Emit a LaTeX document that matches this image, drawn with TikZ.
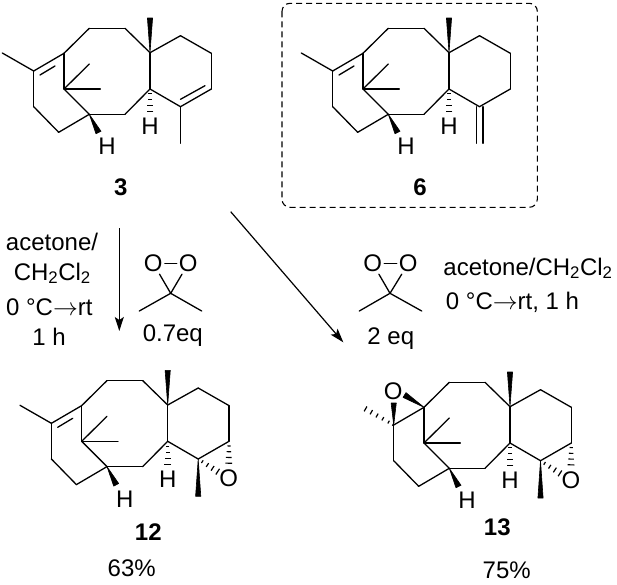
\documentclass[tikz,border=0pt]{standalone}
\usepackage{fontspec}
\setmainfont{Liberation Sans}
\usetikzlibrary{arrows.meta, calc}

\tikzset{
  bond/.style={line width=1.3pt, line cap=round, line join=round},
  atom/.style={font=\fontsize{24}{26}\selectfont, inner sep=2pt},
  lbl/.style={font=\fontsize{24}{26}\selectfont, anchor=base, inner sep=0pt},
  numlbl/.style={font=\fontsize{24}{26}\selectfont\bfseries, anchor=base, inner sep=0pt},
  rxn/.style={line width=1.2pt, -{Stealth[length=14pt, width=9pt, inset=3pt]}}
}

% wedge, thin at #1 and #3 wide at #2
\newcommand{\wedgebond}[3]{
  \fill (#1) -- ($(#2)!#3!90:(#1)$) -- ($(#2)!#3!-90:(#1)$) -- cycle;
  \draw[line width=0.6pt, line join=round] (#1) -- ($(#2)!#3!90:(#1)$) -- ($(#2)!#3!-90:(#1)$) -- cycle;
}
% hashed bond, bars widen from #1 to #2
\newcommand{\hashbond}[2]{
  \foreach \t/\w in {0.2/1.6pt, 0.45/2.2pt, 0.7/2.8pt, 0.95/3.4pt}
    \draw[line width=1.2pt] ($(#1)!\t!(#2)!\w!90:(#2)$) -- ($(#1)!\t!(#2)!\w!-90:(#2)$);
}
% ring atoms, wedges and H labels that all four compounds share
\newcommand{\ringcore}{
  \coordinate (a1) at (33.7,71);
  \coordinate (a2) at (64,53.3);
  \coordinate (a3) at (89.3,28.3);
  \coordinate (a4) at (125,28.3);
  \coordinate (a5) at (150,52.7);
  \coordinate (a6) at (180.5,35.7);
  \coordinate (a7) at (211.3,53.3);
  \coordinate (a8) at (211.3,89);
  \coordinate (a9) at (180.5,106.7);
  \coordinate (a10) at (150,89);
  \coordinate (a11) at (125,114.3);
  \coordinate (a12) at (89.3,114.3);
  \coordinate (a13) at (58.7,132.3);
  \coordinate (a14) at (33.7,106.7);
  \coordinate (aq) at (64,89);
  \coordinate (me1) at (89.3,64);
  \coordinate (me2) at (100.3,89);
  \coordinate (metop) at (150,18);
  \coordinate (wedgeh) at (98.5,132.5);
  \coordinate (hashh) at (150,113);
  \node[atom] (h1) at (107,146.7) {H};
  \node[atom] (h2) at (150,126.5) {H};
  \foreach \a/\b in {a2/a3, a3/a4, a4/a5, a5/a6, a6/a7, a7/a8, a9/a10, a10/a5,
      a10/a11, a11/a12, a12/a13, a13/a14, a14/a1, a2/aq, aq/me1, aq/me2, aq/a12}
    \draw[bond] (\a) -- (\b);
  \wedgebond{a5}{metop}{2.6pt}
  \wedgebond{a12}{wedgeh}{2.8pt}
  \hashbond{a10}{hashh}
}
% left ring alkene with its methyl
\newcommand{\leftalkene}{
  \coordinate (me3) at (2.3,53);
  \coordinate (in1) at (40,75);
  \coordinate (in2) at (55,66);
  \draw[bond] (me3) -- (a1);
  \draw[bond] (a1) -- (a2);
  \draw[bond] (in1) -- (in2);
}
% epoxide of the right ring with its methyl
\newcommand{\rightepoxide}{
  \node[atom] (o1) at (211,126) {O};
  \coordinate (me4) at (180.5,144);
  \coordinate (oh1) at (211,112);
  \coordinate (oh2) at (201,120);
  \draw[bond] (a8) -- (a9);
  \wedgebond{a9}{me4}{2.6pt}
  \hashbond{a8}{oh1}
  \hashbond{a9}{oh2}
}

\begin{document}
\begin{tikzpicture}[x=1pt, y=-1pt]
  \useasboundingbox (0,0) rectangle (617,584);

  % Compound 3
  \begin{scope}[name prefix=three-]
    \ringcore
    \leftalkene
    \coordinate (in3) at (205,85.7);
    \coordinate (in4) at (180.5,99.3);
    \coordinate (me5) at (180.5,143.3);
    \draw[bond] (a8) -- (a9);
    \draw[bond] (in3) -- (in4);
    \draw[bond] (a9) -- (me5);
    \node[numlbl] (n3) at (120.7,195) {3};
  \end{scope}

  % Compound 6
  \begin{scope}[shift={(299,0)}, name prefix=six-]
    \ringcore
    \leftalkene
    \coordinate (l1) at (177.3,106.7);
    \coordinate (l2) at (177.3,143.3);
    \coordinate (l3) at (184,106.7);
    \coordinate (l4) at (184,143.3);
    \draw[bond] (a8) -- (a9);
    \draw[bond] (l1) -- (l2);
    \draw[bond] (l3) -- (l4);
    \node[numlbl] (n6) at (121,195) {6};
  \end{scope}
  \draw[line width=1.1pt, dash pattern=on 6pt off 4pt, rounded corners=8pt]
    (282,3.3) rectangle (537.3,207.3);

  % Compound 12
  \begin{scope}[shift={(17.7,352.3)}, name prefix=twelve-]
    \ringcore
    \leftalkene
    \rightepoxide
    \node[numlbl] (n12) at (130.6,187.7) {12};
  \end{scope}
  \node[lbl] (y12) at (131.7,576.7) {63\%};

  % Compound 13
  \begin{scope}[shift={(360,354)}, name prefix=thirteen-]
    \ringcore
    \rightepoxide
    \node[atom] (o2) at (33.3,37.7) {O};
    \coordinate (me3) at (1.7,52.7);
    \coordinate (oa) at (33.7,49);
    \coordinate (ob) at (44.5,41);
    \draw[bond] (a1) -- (a2);
    \wedgebond{a1}{oa}{2.6pt}
    \wedgebond{a2}{ob}{2.8pt}
    \foreach \t/\w in {0.12/2.8pt, 0.3/2.5pt, 0.48/2.2pt, 0.66/1.9pt, 0.84/1.6pt, 0.98/1.3pt}
      \draw[line width=1.2pt] ($(me3)!\t!(a1)!\w!90:(a1)$) -- ($(me3)!\t!(a1)!\w!-90:(a1)$);
    \node[numlbl] (n13) at (137.3,181) {13};
  \end{scope}
  \node[lbl] (y13) at (506.7,578.5) {75\%};

  % Left reagent
  \coordinate (arrow1a) at (119.3,228.3);
  \coordinate (arrow1b) at (119.3,331);
  \draw[rxn] (arrow1a) -- (arrow1b);
  \node[lbl] (t1) at (52,250) {acetone/};
  \node[lbl] (t2) at (52.3,280) {CH\textsubscript{2}Cl\textsubscript{2}};
  \node[lbl] (t3) at (49.3,315) {0 °C$\rightarrow$rt};
  \node[lbl] (t4) at (49,345.7) {1 h};
  \node[atom] (p1) at (153.3,263.5) {O};
  \node[atom] (p2) at (188.3,263.5) {O};
  \coordinate (pc) at (170.7,293.3);
  \coordinate (pm1) at (139.3,311);
  \coordinate (pm2) at (201.7,311);
  \draw[bond] (p1) -- (p2);
  \draw[bond] (p1) -- (pc);
  \draw[bond] (p2) -- (pc);
  \draw[bond] (pm1) -- (pc);
  \draw[bond] (pm2) -- (pc);
  \node[lbl] (t5) at (172.8,341.7) {0.7eq};

  % Right reagent
  \coordinate (arrow2a) at (230.7,211.7);
  \coordinate (arrow2b) at (343.3,342.3);
  \draw[rxn] (arrow2a) -- (arrow2b);
  \node[atom] (q1) at (372.7,263.5) {O};
  \node[atom] (q2) at (408.3,263.5) {O};
  \coordinate (qc) at (390,293.3);
  \coordinate (qm1) at (359.3,311);
  \coordinate (qm2) at (421.7,311);
  \draw[bond] (q1) -- (q2);
  \draw[bond] (q1) -- (qc);
  \draw[bond] (q2) -- (qc);
  \draw[bond] (qm1) -- (qc);
  \draw[bond] (qm2) -- (qc);
  \node[lbl] (t6) at (390.8,344) {2 eq};
  \node[lbl] (t7) at (528,275) {acetone/CH\textsubscript{2}Cl\textsubscript{2}};
  \node[lbl] (t8) at (512.5,309) {0 °C$\rightarrow$rt, 1 h};
\end{tikzpicture}
\end{document}
